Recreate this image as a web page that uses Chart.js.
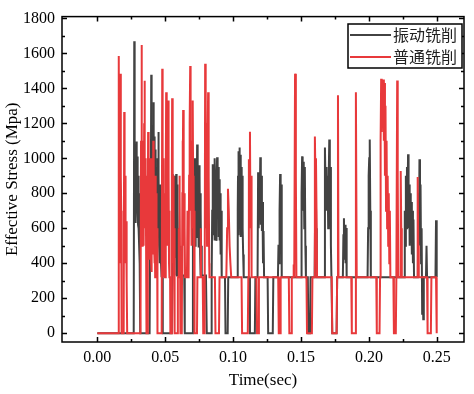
<!DOCTYPE html>
<html>
<head>
<meta charset="utf-8">
<script src="https://cdn.jsdelivr.net/npm/chart.js@4/dist/chart.umd.min.js"></script>
<style>
  html, body { margin: 0; padding: 0; background: #fff; }
  #wrap { width: 474px; height: 394px; position: relative; }
</style>
</head>
<body>
<div id="wrap"><canvas id="myChart"></canvas></div>
<script>
// series labels
var seriesNames = ['振动铣削', '普通铣削'];

// 振动铣削: [time (sec), stress (MPa)]
var vibPoints = [
  [0, 0], [0.0268, 0], [0.0272, 1669], [0.0274, 900], [0.0276, 640], [0.0278, 1000], [0.0280, 1080],
  [0.0282, 700], [0.0284, 630], [0.0286, 950], [0.0288, 1096], [0.0290, 800], [0.0292, 720], [0.0294, 980],
  [0.0296, 1010], [0.0298, 700], [0.0300, 620], [0.0302, 850], [0.0304, 900], [0.0306, 600], [0.0308, 500],
  [0.0310, 780], [0.0312, 800], [0.0314, 400], [0.0316, 0],
  [0.0385, 0], [0.0390, 700], [0.0393, 900], [0.0395, 700], [0.0397, 1478], [0.0399, 900], [0.0401, 1100],
  [0.0403, 760], [0.0405, 1190], [0.0407, 800], [0.0409, 1000], [0.0411, 700], [0.0413, 1320], [0.0415, 800],
  [0.0417, 1150], [0.0419, 650], [0.0421, 1124], [0.0423, 700], [0.0425, 1000], [0.0427, 620], [0.0429, 1050],
  [0.0431, 560], [0.0433, 950], [0.0435, 650], [0.0437, 900], [0.0439, 500], [0.0441, 880], [0.0443, 600],
  [0.0445, 1000], [0.0447, 700], [0.0449, 1150], [0.0451, 600], [0.0453, 900], [0.0455, 500], [0.0457, 800],
  [0.0459, 400], [0.0461, 700], [0.0463, 800], [0.0465, 500], [0.0467, 850], [0.0469, 400], [0.0471, 700],
  [0.0473, 320], [0.0476, 600], [0.0478, 320], [0.0482, 0],
  [0.0548, 0], [0.0551, 500], [0.0553, 800], [0.0555, 600], [0.0557, 910], [0.0559, 500], [0.0561, 880],
  [0.0563, 430], [0.0565, 900], [0.0567, 600], [0.0569, 850], [0.0571, 330], [0.0573, 900], [0.0575, 430],
  [0.0577, 850], [0.0579, 600], [0.0581, 910], [0.0583, 500], [0.0585, 800], [0.0587, 330], [0.0589, 850],
  [0.0591, 450], [0.0593, 700], [0.0595, 330], [0.0597, 600], [0.0600, 330], [0.0610, 330], [0.0613, 500],
  [0.0615, 330], [0.0640, 330], [0.0644, 0],
  [0.0700, 0], [0.0704, 600], [0.0706, 900], [0.0708, 490], [0.0710, 960], [0.0712, 520], [0.0714, 1000],
  [0.0716, 600], [0.0718, 950], [0.0720, 500], [0.0722, 910], [0.0724, 700], [0.0726, 1000], [0.0728, 550],
  [0.0730, 960], [0.0732, 600], [0.0735, 1079], [0.0737, 650], [0.0739, 1040], [0.0741, 550], [0.0743, 900],
  [0.0745, 490], [0.0747, 850], [0.0749, 500], [0.0751, 960], [0.0753, 600], [0.0755, 900], [0.0757, 450],
  [0.0759, 800], [0.0761, 330], [0.0763, 700], [0.0765, 330], [0.0768, 500], [0.0770, 330], [0.0800, 330],
  [0.0806, 0],
  [0.0838, 0], [0.0842, 320], [0.0846, 700], [0.0850, 966], [0.0852, 700], [0.0854, 560], [0.0856, 800],
  [0.0858, 940], [0.0860, 700], [0.0862, 530], [0.0864, 850], [0.0866, 1000], [0.0868, 800], [0.0870, 600],
  [0.0872, 750], [0.0874, 900], [0.0876, 700], [0.0878, 528], [0.0880, 850], [0.0882, 1006], [0.0884, 800],
  [0.0886, 700], [0.0888, 850], [0.0890, 950], [0.0892, 700], [0.0894, 550], [0.0896, 800], [0.0898, 880],
  [0.0900, 650], [0.0902, 530], [0.0904, 700], [0.0906, 800], [0.0908, 600], [0.0910, 450], [0.0912, 600],
  [0.0914, 700], [0.0918, 320],
  [0.0940, 320], [0.0944, 0], [0.0960, 0], [0.0964, 320],
  [0.1030, 320], [0.1034, 700], [0.1036, 900], [0.1038, 1040], [0.1040, 800], [0.1042, 560], [0.1044, 850],
  [0.1046, 1062], [0.1048, 800], [0.1050, 600], [0.1052, 850], [0.1054, 1020], [0.1056, 750], [0.1058, 550],
  [0.1060, 800], [0.1062, 950], [0.1064, 750], [0.1066, 600], [0.1068, 750], [0.1070, 900], [0.1072, 600],
  [0.1074, 450], [0.1078, 320],
  [0.1120, 320], [0.1124, 0], [0.1160, 0], [0.1164, 320],
  [0.1180, 320], [0.1184, 920], [0.1188, 600], [0.1192, 880], [0.1196, 700], [0.1200, 1006], [0.1204, 620],
  [0.1208, 900], [0.1212, 584], [0.1216, 750], [0.1220, 400], [0.1224, 584], [0.1228, 320],
  [0.1254, 320], [0.1258, 0], [0.1292, 0], [0.1296, 320],
  [0.1330, 320], [0.1334, 506], [0.1338, 400], [0.1342, 700], [0.1346, 910], [0.1350, 600], [0.1354, 850], [0.1358, 320],
  [0.1500, 320], [0.1504, 800], [0.1508, 1011], [0.1512, 700], [0.1516, 980], [0.1520, 920], [0.1524, 600],
  [0.1528, 950], [0.1532, 500], [0.1536, 320], [0.1550, 320], [0.1554, 0], [0.1566, 0], [0.1570, 320],
  [0.1600, 320], [0.1604, 700], [0.1608, 920], [0.1612, 600], [0.1616, 320],
  [0.1672, 320], [0.1676, 1062], [0.1680, 880], [0.1684, 950], [0.1688, 700], [0.1692, 900], [0.1696, 882],
  [0.1700, 600], [0.1704, 900], [0.1708, 1107], [0.1712, 700], [0.1716, 950], [0.1720, 500], [0.1724, 320],
  [0.1730, 0], [0.1762, 0], [0.1766, 320],
  [0.1808, 320], [0.1812, 560], [0.1816, 657], [0.1820, 420], [0.1824, 620], [0.1828, 400], [0.1832, 601], [0.1836, 320],
  [0.1990, 320], [0.1994, 600], [0.1998, 900], [0.2002, 1000], [0.2006, 1107], [0.2010, 700], [0.2014, 320],
  [0.2260, 320], [0.2264, 700], [0.2268, 500], [0.2272, 900], [0.2276, 600], [0.2280, 950], [0.2284, 700],
  [0.2288, 1023], [0.2292, 600], [0.2296, 850], [0.2300, 500], [0.2304, 800], [0.2308, 600], [0.2312, 750],
  [0.2316, 450], [0.2320, 700], [0.2324, 400], [0.2328, 650], [0.2332, 320],
  [0.2360, 320], [0.2364, 800], [0.2368, 500], [0.2372, 995], [0.2376, 600], [0.2380, 850], [0.2384, 400],
  [0.2388, 600], [0.2392, 112], [0.2396, 300], [0.2400, 80], [0.2404, 320],
  [0.2420, 320], [0.2424, 500], [0.2428, 320], [0.2490, 320], [0.2494, 646], [0.2498, 320], [0.2500, 320]
];

// 普通铣削: [time (sec), stress (MPa)]
var normPoints = [
  [0, 0], [0.0154, 0], [0.0158, 1585], [0.0160, 800], [0.0162, 400], [0.0164, 900], [0.0166, 1200],
  [0.0170, 1484], [0.0172, 1484], [0.0174, 900], [0.0176, 700], [0.0178, 300], [0.0180, 0],
  [0.0194, 0], [0.0198, 1264], [0.0200, 1100], [0.0202, 900], [0.0204, 700], [0.0206, 900], [0.0208, 640],
  [0.0210, 400], [0.0212, 640], [0.0214, 420], [0.0216, 600], [0.0218, 300], [0.0220, 0],
  [0.0318, 0], [0.0322, 1100], [0.0325, 1647], [0.0327, 1300], [0.0329, 800], [0.0331, 500], [0.0333, 1000],
  [0.0335, 700], [0.0337, 1100], [0.0339, 600], [0.0341, 900], [0.0343, 500], [0.0345, 1200], [0.0347, 1444],
  [0.0349, 900], [0.0351, 700], [0.0353, 1000], [0.0355, 600], [0.0357, 950], [0.0359, 520], [0.0361, 900],
  [0.0363, 0], [0.0370, 0], [0.0372, 600], [0.0374, 1150], [0.0376, 700], [0.0378, 1000], [0.0380, 500],
  [0.0382, 850], [0.0384, 420], [0.0386, 900], [0.0388, 600], [0.0390, 1000], [0.0392, 500], [0.0394, 800],
  [0.0396, 400], [0.0398, 700], [0.0400, 350], [0.0402, 650], [0.0404, 1000], [0.0406, 600], [0.0408, 900],
  [0.0410, 450], [0.0412, 1100], [0.0414, 700], [0.0416, 950], [0.0418, 500], [0.0420, 800], [0.0422, 400],
  [0.0424, 700], [0.0426, 320], [0.0428, 600], [0.0430, 900], [0.0432, 500], [0.0434, 800], [0.0436, 320],
  [0.0440, 600], [0.0442, 320], [0.0444, 0],
  [0.0474, 0], [0.0478, 1512], [0.0480, 900], [0.0482, 700], [0.0484, 1000], [0.0486, 500], [0.0488, 900],
  [0.0490, 320], [0.0492, 800], [0.0494, 400], [0.0496, 700], [0.0498, 320], [0.0502, 320], [0.0504, 900],
  [0.0507, 1377], [0.0509, 800], [0.0511, 1100], [0.0513, 600], [0.0515, 1000], [0.0517, 500], [0.0520, 1000],
  [0.0522, 1330], [0.0524, 700], [0.0526, 900], [0.0528, 400], [0.0530, 700], [0.0532, 320], [0.0536, 320],
  [0.0538, 0], [0.0546, 0], [0.0549, 900], [0.0551, 1343], [0.0553, 800], [0.0555, 1000], [0.0557, 500],
  [0.0559, 900], [0.0561, 400], [0.0563, 700], [0.0565, 320], [0.0567, 600], [0.0569, 320], [0.0572, 0],
  [0.0590, 0], [0.0593, 320], [0.0598, 320], [0.0600, 600], [0.0602, 320], [0.0604, 900], [0.0606, 400],
  [0.0608, 800], [0.0610, 320], [0.0612, 0], [0.0622, 0], [0.0626, 800], [0.0628, 1100], [0.0630, 900],
  [0.0632, 1276], [0.0634, 700], [0.0636, 1000], [0.0638, 500], [0.0640, 800], [0.0642, 320], [0.0644, 600],
  [0.0646, 320], [0.0660, 320], [0.0664, 700], [0.0666, 320], [0.0672, 320], [0.0676, 900], [0.0680, 1200],
  [0.0684, 1528], [0.0686, 900], [0.0688, 700], [0.0690, 1100], [0.0692, 600], [0.0694, 900], [0.0696, 500],
  [0.0698, 1000], [0.0701, 1200], [0.0704, 1330], [0.0706, 800], [0.0708, 600], [0.0710, 900], [0.0712, 400],
  [0.0714, 700], [0.0716, 320], [0.0718, 0], [0.0734, 0], [0.0737, 320], [0.0760, 320], [0.0762, 600],
  [0.0764, 320], [0.0776, 320], [0.0780, 0], [0.0790, 0], [0.0794, 1540], [0.0797, 1100], [0.0799, 800],
  [0.0801, 1200], [0.0803, 600], [0.0805, 1000], [0.0808, 500], [0.0812, 1100], [0.0816, 1377], [0.0818, 800],
  [0.0820, 600], [0.0822, 900], [0.0824, 400], [0.0826, 320],
  [0.0866, 320], [0.0870, 0], [0.0896, 0], [0.0900, 320], [0.0950, 320], [0.0956, 600], [0.0962, 826],
  [0.0968, 700], [0.0974, 500], [0.0980, 400], [0.0986, 320], [0.1062, 320], [0.1066, 0], [0.1108, 0],
  [0.1112, 320], [0.1116, 995], [0.1120, 700], [0.1124, 1152], [0.1128, 600], [0.1132, 900], [0.1136, 320],
  [0.1172, 320], [0.1176, 0], [0.1186, 0], [0.1190, 320], [0.1332, 320], [0.1336, 0], [0.1346, 0], [0.1350, 320],
  [0.1410, 320], [0.1414, 0], [0.1428, 0], [0.1432, 320], [0.1442, 320], [0.1446, 393], [0.1450, 320],
  [0.1456, 1484], [0.1462, 900], [0.1466, 320], [0.1540, 320], [0.1544, 0], [0.1580, 0], [0.1584, 320],
  [0.1598, 320], [0.1602, 1124], [0.1606, 900], [0.1610, 1000], [0.1614, 700], [0.1618, 320],
  [0.1726, 320], [0.1730, 0], [0.1762, 0], [0.1766, 320], [0.1772, 1360], [0.1776, 320],
  [0.1870, 320], [0.1874, 0], [0.1898, 0], [0.1904, 1377], [0.1910, 320],
  [0.2054, 320], [0.2058, 0], [0.2078, 0], [0.2082, 320], [0.2086, 1100], [0.2090, 1455], [0.2094, 1150],
  [0.2098, 1440], [0.2102, 1250], [0.2106, 1450], [0.2110, 1100], [0.2114, 1430], [0.2118, 900], [0.2122, 1300],
  [0.2126, 700], [0.2130, 1100], [0.2134, 600], [0.2138, 900], [0.2142, 500], [0.2146, 800], [0.2150, 400],
  [0.2154, 700], [0.2158, 320], [0.2180, 320], [0.2184, 0], [0.2198, 0], [0.2202, 320], [0.2208, 1445],
  [0.2212, 900], [0.2216, 320], [0.2230, 320], [0.2234, 927], [0.2238, 600], [0.2242, 320],
  [0.2355, 320], [0.2359, 893], [0.2363, 500], [0.2367, 320], [0.2428, 320], [0.2432, 0], [0.2456, 0],
  [0.2460, 320], [0.2494, 320], [0.2498, 0], [0.2500, 0]
];

// tick values
var xTicks = [0, 0.05, 0.10, 0.15, 0.20, 0.25];
var xMinor = [0.025, 0.075, 0.125, 0.175, 0.225];
var yTicks = [0, 200, 400, 600, 800, 1000, 1200, 1400, 1600, 1800];
var yMinor = [100, 300, 500, 700, 900, 1100, 1300, 1500, 1700];

var colors = ['#424242', '#e8393b'];
var serif = "'Liberation Serif', 'Times New Roman', serif";

// inward ticks on all four sides + box frame
var frameTicks = {
  id: 'frameTicks',
  afterDraw: function (chart) {
    var ctx = chart.ctx, a = chart.chartArea;
    var xs = chart.scales.x, ys = chart.scales.y;
    ctx.save();
    ctx.strokeStyle = '#000';
    ctx.lineWidth = 1.5;
    ctx.strokeRect(a.left, a.top, a.right - a.left, a.bottom - a.top);
    function xt(v, len) {
      var px = Math.round(xs.getPixelForValue(v)) + 0.5;
      ctx.beginPath();
      ctx.moveTo(px, a.bottom); ctx.lineTo(px, a.bottom - len);
      ctx.moveTo(px, a.top); ctx.lineTo(px, a.top + len);
      ctx.stroke();
    }
    function yt(v, len) {
      var py = Math.round(ys.getPixelForValue(v)) + 0.5;
      ctx.beginPath();
      ctx.moveTo(a.left, py); ctx.lineTo(a.left + len, py);
      ctx.moveTo(a.right, py); ctx.lineTo(a.right - len, py);
      ctx.stroke();
    }
    xTicks.forEach(function (v) { xt(v, 5); });
    xMinor.forEach(function (v) { xt(v, 3); });
    yTicks.forEach(function (v) { yt(v, 5); });
    yMinor.forEach(function (v) { yt(v, 3); });
    ctx.restore();
  }
};

// boxed legend in the upper right corner
var boxLegend = {
  id: 'boxLegend',
  afterDraw: function (chart) {
    var ctx = chart.ctx;
    var bx = 348, by = 24, bw = 114, bh = 44;
    ctx.save();
    ctx.fillStyle = '#fff';
    ctx.fillRect(bx, by, bw, bh);
    ctx.strokeStyle = '#000';
    ctx.lineWidth = 1.5;
    ctx.strokeRect(bx, by, bw, bh);
    ctx.font = "16px 'Noto Sans CJK SC'";
    ctx.textBaseline = 'middle';
    chart.data.datasets.forEach(function (ds, i) {
      var ly = by + 11 + i * 22;
      ctx.strokeStyle = ds.borderColor;
      ctx.lineWidth = 2;
      ctx.beginPath();
      ctx.moveTo(bx + 2, ly); ctx.lineTo(bx + 43, ly);
      ctx.stroke();
      ctx.fillStyle = '#222';
      ctx.fillText(ds.label, bx + 45, ly);
    });
    ctx.restore();
  }
};

var ctx = document.getElementById('myChart').getContext('2d');
var stressChart = new Chart(ctx, {
  type: 'line',
  data: {
    datasets: [{
      label: seriesNames[0],
      data: vibPoints,
      borderColor: colors[0],
      borderWidth: 2,
      pointRadius: 0,
      tension: 0,
      order: 1
    }, {
      label: seriesNames[1],
      data: normPoints,
      borderColor: colors[1],
      borderWidth: 2,
      pointRadius: 0,
      tension: 0,
      order: 0
    }]
  },
  options: {
    responsive: true,
    maintainAspectRatio: false,
    animation: false,
    layout: { padding: { top: 10, right: 10, left: 0, bottom: 0 } },
    plugins: {
      legend: { display: false },
      tooltip: { enabled: false }
    },
    scales: {
      x: {
        type: 'linear',
        min: -0.026,
        max: 0.27,
        afterBuildTicks: function (scale) {
          scale.ticks = xTicks.map(function (v) { return { value: v }; });
        },
        afterFit: function (scale) { scale.height = 52; },
        grid: { display: false, drawTicks: false },
        border: { display: false },
        ticks: {
          color: '#000',
          padding: 6,
          maxRotation: 0,
          font: { family: serif, size: 16 },
          callback: function (v) { return Number(v).toFixed(2); }
        },
        title: {
          display: true,
          text: 'Time(sec)',
          color: '#000',
          font: { family: serif, size: 17 },
          padding: { top: 4, bottom: 3 }
        }
      },
      y: {
        type: 'linear',
        min: -50,
        max: 1810,
        afterBuildTicks: function (scale) {
          scale.ticks = yTicks.map(function (v) { return { value: v }; });
        },
        afterFit: function (scale) { scale.width = 62; },
        grid: { display: false, drawTicks: false },
        border: { display: false },
        ticks: {
          color: '#000',
          padding: 7,
          font: { family: serif, size: 16 },
          callback: function (v) { return String(v); }
        },
        title: {
          display: true,
          text: 'Effective Stress (Mpa)',
          color: '#000',
          font: { family: serif, size: 17 },
          padding: { top: 2, bottom: 0 }
        }
      }
    }
  },
  plugins: [frameTicks, boxLegend]
});
</script>
</body>
</html>
